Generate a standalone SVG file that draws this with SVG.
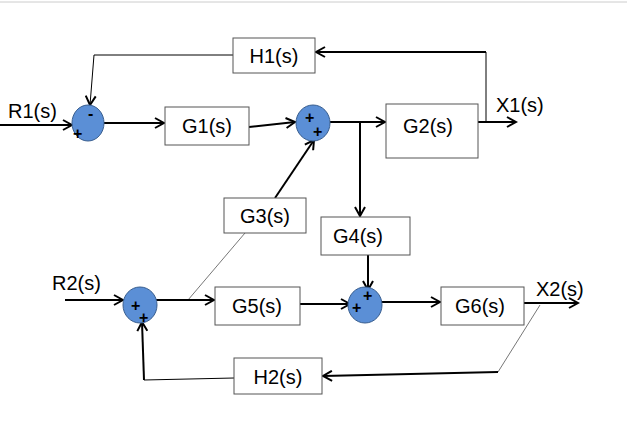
<svg xmlns="http://www.w3.org/2000/svg" width="627" height="436" viewBox="0 0 627 436">
<style>
.b{fill:#fff;stroke:#555;stroke-width:1}
.t{font-family:"Liberation Sans",Arial,sans-serif;font-size:20px;fill:#000}
.s{fill:#5b8fd6;stroke:#3a5f8f;stroke-width:1}
.p{font-family:"Liberation Sans",Arial,sans-serif;font-size:16px;font-weight:bold;fill:#000}
.c{fill:none;stroke:#000;stroke-width:2}
.th{fill:none;stroke:#000;stroke-width:1}
.g{fill:none;stroke:#777;stroke-width:1}
</style>
<defs><marker id="a" markerWidth="12" markerHeight="12" refX="10" refY="6" orient="auto" markerUnits="userSpaceOnUse"><path d="M1,1 L10,6 L1,11" fill="none" stroke="#000" stroke-width="2"/></marker></defs>
<rect width="627" height="436" fill="#fff"/>
<line x1="0" y1="2" x2="627" y2="2" stroke="#ccc"/>
<g id="connectors">
<path class="c" d="M0,125 H72" marker-end="url(#a)"/>
<path class="c" d="M104,123 H164" marker-end="url(#a)"/>
<path class="c" d="M249,127 L295,122" marker-end="url(#a)"/>
<path class="c" d="M330,122 H385" marker-end="url(#a)"/>
<path class="c" d="M478,122 H516" marker-end="url(#a)"/>
<path class="th" d="M486,122 V52"/>
<path class="c" d="M486,52 H316" marker-end="url(#a)"/>
<path class="th" d="M233,55 H94 L90,105" marker-end="url(#a)"/>
<path class="c" d="M360,122 V216" marker-end="url(#a)"/>
<path class="c" d="M275,198 L314,140" marker-end="url(#a)"/>
<path class="g" d="M245,233 L188,300"/>
<path class="c" d="M65,300 H123" marker-end="url(#a)"/>
<path class="c" d="M156,300 H214" marker-end="url(#a)"/>
<path class="c" d="M300,304 H350" marker-end="url(#a)"/>
<path class="c" d="M368,255 V290" marker-end="url(#a)"/>
<path class="c" d="M381,302 H440" marker-end="url(#a)"/>
<path class="c" d="M524,303 H578" marker-end="url(#a)"/>
<path class="g" d="M540,305 L498,372"/>
<path class="c" d="M498,372 L323,376" marker-end="url(#a)"/>
<path class="th" d="M234,378 L144,380"/>
<path class="c" d="M144,380 L142,322" marker-end="url(#a)"/>
</g>
<g id="H1"><rect class="b" x="233" y="38" width="82" height="35"/><text class="t" x="274" y="63" text-anchor="middle">H1(s)</text></g>
<g id="G1"><rect class="b" x="165" y="107" width="84" height="38"/><text class="t" x="207" y="133" text-anchor="middle">G1(s)</text></g>
<g id="G2"><rect class="b" x="386" y="104" width="92" height="54"/><text class="t" x="428" y="133" text-anchor="middle">G2(s)</text></g>
<g id="G3"><rect class="b" x="224" y="198" width="82" height="35"/><text class="t" x="265" y="223" text-anchor="middle">G3(s)</text></g>
<g id="G4"><rect class="b" x="321" y="217" width="89" height="38"/><text class="t" x="358" y="243" text-anchor="middle">G4(s)</text></g>
<g id="G5"><rect class="b" x="215" y="287" width="85" height="38"/><text class="t" x="257" y="313" text-anchor="middle">G5(s)</text></g>
<g id="G6"><rect class="b" x="441" y="287" width="83" height="38"/><text class="t" x="480" y="313" text-anchor="middle">G6(s)</text></g>
<g id="H2"><rect class="b" x="234" y="358" width="88" height="36"/><text class="t" x="278" y="384" text-anchor="middle">H2(s)</text></g>
<g id="S1"><ellipse class="s" cx="88" cy="123" rx="16" ry="18"/><text class="p" x="88" y="119">-</text><text class="p" x="73" y="139">+</text></g>
<g id="S2"><ellipse class="s" cx="313" cy="123" rx="17" ry="18"/><text class="p" x="305" y="123">+</text><text class="p" x="313" y="137">+</text></g>
<g id="S3"><ellipse class="s" cx="140" cy="305" rx="17" ry="18"/><text class="p" x="131" y="311">+</text><text class="p" x="139" y="323">+</text></g>
<g id="S4"><ellipse class="s" cx="365" cy="305" rx="17" ry="18"/><text class="p" x="363" y="301">+</text><text class="p" x="352" y="313">+</text></g>
<g id="labels">
<text class="t" x="8" y="118">R1(s)</text>
<text class="t" x="496" y="112">X1(s)</text>
<text class="t" x="52" y="290">R2(s)</text>
<text class="t" x="536" y="296">X2(s)</text>
</g>
</svg>
